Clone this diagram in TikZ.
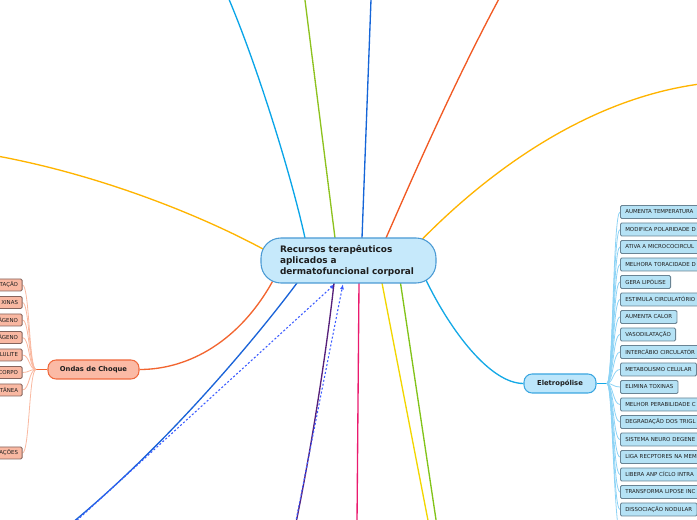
\documentclass[tikz,border=0pt]{standalone}
\usepackage{fontspec}
\setmainfont{DejaVu Sans}
\usetikzlibrary{calc,backgrounds,arrows.meta}
\definecolor{cyanA}{HTML}{0AA5E8}
\definecolor{greenA}{HTML}{8DC21F}
\definecolor{blueA}{HTML}{1565D8}
\definecolor{redA}{HTML}{F15A24}
\definecolor{orangeA}{HTML}{FFB400}
\definecolor{ondasC}{HTML}{F26530}
\definecolor{blueB}{HTML}{1A63D8}
\definecolor{dashB}{HTML}{3B5BFF}
\definecolor{purpC}{HTML}{56207A}
\definecolor{pinkC}{HTML}{EA1A6E}
\definecolor{yellC}{HTML}{F2D600}
\definecolor{greenB}{HTML}{82C31A}
\definecolor{cyanB}{HTML}{15A9E6}
\definecolor{cfill}{HTML}{C6E9FB}
\definecolor{cdraw}{HTML}{4A9AD4}
\definecolor{efill}{HTML}{BCE6FB}
\definecolor{edraw}{HTML}{3AA6E0}
\definecolor{ofill}{HTML}{FBBAA5}
\definecolor{odraw}{HTML}{EF6A3E}
\definecolor{rleaf}{HTML}{B5E2F5}
\definecolor{rleafd}{HTML}{6A8494}
\definecolor{rline}{HTML}{8DD3F5}
\definecolor{lleaf}{HTML}{F9B8A2}
\definecolor{lleafd}{HTML}{86645C}
\definecolor{lline}{HTML}{F9B8A0}
\definecolor{txt}{HTML}{1E1E1E}
\begin{document}
\begin{tikzpicture}[x=0.75pt,y=-0.75pt,
  mainline/.style={line width=1pt},
  centralbox/.style={draw=cdraw,fill=cfill,line width=0.8pt,rounded corners=15pt,
    minimum width=131.25pt,minimum height=33.75pt,text width=102.75pt,align=left,
    font=\bfseries\fontsize{6.7}{8.25}\selectfont,text=txt},
  midbox/.style={line width=0.8pt,rounded corners=6pt,minimum height=14.25pt,
    font=\bfseries\fontsize{5.1}{6}\selectfont,text=txt,inner sep=1pt},
  rleafbox/.style={draw=rleafd,fill=rleaf,line width=0.7pt,rounded corners=1pt,
    minimum height=9.75pt,inner xsep=3.6pt,inner ysep=0pt,anchor=west,
    font=\fontsize{4.1}{5}\selectfont,text=txt},
  rcut/.style={rleafbox,text width=80pt,align=left},
  lleafbox/.style={draw=lleafd,fill=lleaf,line width=0.7pt,rounded corners=1pt,
    minimum height=9pt,inner xsep=3pt,inner ysep=0pt,anchor=east,
    text width=50pt,align=right,font=\fontsize{4.1}{5}\selectfont,text=txt},
  rleafline/.style={draw=rline,line width=0.6pt},
  lleafline/.style={draw=lline,line width=0.6pt},
  dashedarrow/.style={draw=dashB,line width=0.8pt,dash pattern=on 1.5pt off 1.5pt,
    -{Latex[length=4pt,width=3pt]}}
]
\useasboundingbox (0,0) rectangle (697,520);
\clip (0,0) rectangle (697,520);

\node[centralbox] (c) at (348.5,260.5) {Recursos terapêuticos\\aplicados a\\dermatofuncional corporal};
\node[midbox,draw=odraw,fill=ofill,minimum width=68.25pt] (o) at (93.5,369.5) {Ondas de Choque};
\node[midbox,draw=edraw,fill=efill,minimum width=54pt] (e) at (560,383.5) {Eletropólise};

% right leaves
\node[rleafbox] (r1) at (620,212) {AUMENTA TEMPERATURA};
\node[rcut] (r2) at (620,229.5) {MODIFICA POLARIDADE D};
\node[rcut] (r3) at (620,247) {ATIVA A MICROCOCIRCUL};
\node[rcut] (r4) at (620,264.5) {MELHORA TORACIDADE D};
\node[rleafbox] (r5) at (620,282) {GERA LIPÓLISE};
\node[rcut] (r6) at (620,299.5) {ESTIMULA CIRCULATÓRIO};
\node[rleafbox] (r7) at (620,317) {AUMENTA CALOR};
\node[rleafbox] (r8) at (620,334.5) {VASODILATAÇÃO};
\node[rcut] (r9) at (620,352) {INTERCÂBIO CIRCULATÓR};
\node[rleafbox] (r10) at (620,369.5) {METABOLISMO CELULAR};
\node[rleafbox] (r11) at (620,387) {ELIMINA TOXINAS};
\node[rcut] (r12) at (620,404.5) {MELHOR PERABILIDADE C};
\node[rcut] (r13) at (620,422) {DEGRADAÇÃO DOS TRIGL};
\node[rcut] (r14) at (620,439.5) {SISTEMA NEURO DEGENE};
\node[rcut] (r15) at (620,457) {LIGA RECPTORES NA MEM};
\node[rcut] (r16) at (620,474.5) {LIBERA ANP CÍCLO INTRA};
\node[rcut] (r17) at (620,492) {TRANSFORMA LIPOSE INC};
\node[rleafbox] (r18) at (620,509.5) {DISSOCIAÇÃO NODULAR};

% left leaves
\node[lleafbox] (l1) at (22.5,285) {TAÇÃO};
\node[lleafbox] (l2) at (22.5,302.5) {XINAS};
\node[lleafbox] (l3) at (22.5,320) {ÁGENO};
\node[lleafbox] (l4) at (22.5,337.5) {ÁGENO};
\node[lleafbox] (l5) at (22.5,355) {LULITE};
\node[lleafbox] (l6) at (22.5,372.5) {CORPO};
\node[lleafbox] (l7) at (22.5,390) {TÂNEA};
\node[lleafbox] (l8) at (22.5,453) {AÇÕES};

% off-canvas ends
\coordinate (t1) at (228,-3);
\coordinate (t2) at (304.6,-3);
\coordinate (t3) at (371.1,-3);
\coordinate (t4) at (500,-3);
\coordinate (tr) at (700,84);
\coordinate (tl) at (-3,156);
\coordinate (b1) at (72,523);
\coordinate (b1d) at (74,523);
\coordinate (b2) at (296,523);
\coordinate (b2d) at (295.5,523);
\coordinate (b3) at (357,523);
\coordinate (b4) at (428.5,523);
\coordinate (b5) at (436.5,523);
\coordinate (rt) at (607,383.5);
\coordinate (lt) at (36,369.5);
\coordinate (rbelow) at (622,545);

\begin{scope}[on background layer]
\draw[mainline,cyanA] ($(c.center)+(-43.5,-22.5)$) .. controls (290,170) and (255,60) .. (t1);
\draw[mainline,greenA] ($(c.center)+(-13.5,-22.5)$) -- (t2);
\draw[mainline,blueA] ($(c.center)+(13.5,-22.5)$) -- (t3);
\draw[mainline,redA] ($(c.center)+(37.5,-22.5)$) .. controls (405,195) and (450,90) .. (t4);
\draw[mainline,orangeA] ($(c.center)+(71.5,-19)$) .. controls (480,180) and (580,100) .. (tr);
\draw[mainline,orangeA] ($(c.center)+(-85.5,-11.5)$) .. controls (200,215) and (100,175) .. (tl);
\draw[mainline,ondasC] ($(c.center)+(-76,21)$) .. controls (240,340) and (190,369.5) .. (o.east);
\draw[mainline,blueB] ($(c.center)+(-51.5,22.5)$) .. controls (268,322) and (178,435) .. (b1);
\draw[dashedarrow] (b1d) -- ($(c.center)+(-13.5,23.5)$);
\draw[mainline,purpC] ($(c.center)+(-14.5,22.5)$) .. controls (329,330) and (315,430) .. (b2);
\draw[dashedarrow] (b2d) -- ($(c.center)+(-5.5,23.5)$);
\draw[mainline,pinkC] ($(c.center)+(10.5,22.5)$) -- (b3);
\draw[mainline,yellC] ($(c.center)+(33.5,22.5)$) -- (b4);
\draw[mainline,greenB] ($(c.center)+(52,22.5)$) -- (b5);
\draw[mainline,cyanB] ($(c.center)+(77.5,19.5)$) .. controls (450,330) and (490,383.5) .. (e.west);
% trunks
\draw[mainline,cyanB] (e.east) -- (rt);
\draw[mainline,ondasC] (o.west) -- (lt);
\foreach \i in {1,...,18}{
  \draw[rleafline] (rt) .. controls (613,383.5) and ($(r\i.west)+(-7,0)$) .. (r\i.west);
}
\draw[rleafline] (rt) .. controls (613,383.5) and (613,530) .. (rbelow);
\foreach \i in {1,...,8}{
  \draw[lleafline] (lt) .. controls (29,369.5) and ($(l\i.east)+(7,0)$) .. (l\i.east);
}
\end{scope}
\end{tikzpicture}
\end{document}
